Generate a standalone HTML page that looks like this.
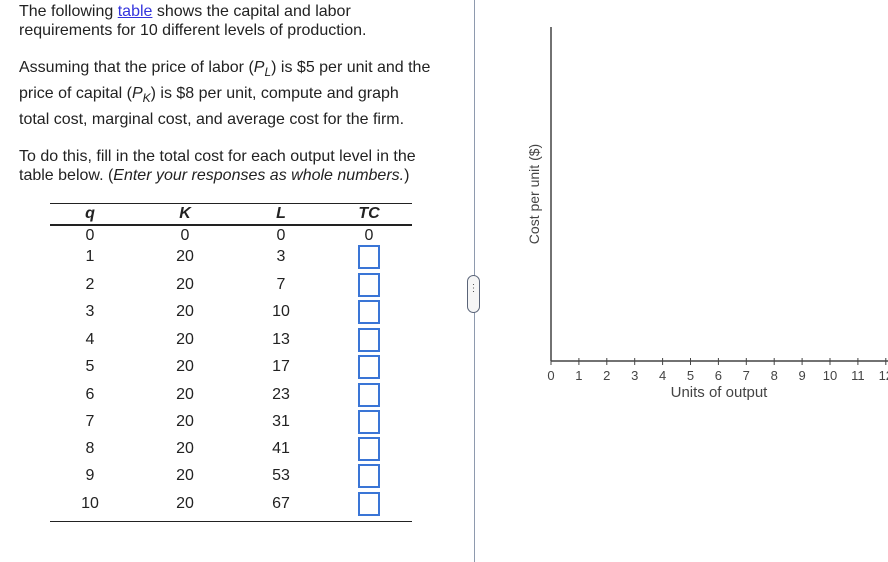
<!DOCTYPE html>
<html><head><meta charset="utf-8"><style>
body{margin:0;width:888px;height:562px;background:#fff;position:relative;overflow:hidden;font-family:"Liberation Sans",Arial,sans-serif;color:#222;font-size:16px}
.t{position:absolute;left:19px;white-space:nowrap;line-height:18px}
a{color:#3333dd;text-decoration:underline}
.c{position:absolute;width:60px;text-align:center;font-size:16px;line-height:18px}
.h{font-weight:bold;font-style:italic}
.in{position:absolute;width:22px;height:24px;border:2px solid #3a75d6;box-sizing:border-box;background:#fff}
.hl{position:absolute;left:50px;width:362px;background:#222}
sub{font-size:12px;vertical-align:-4px;line-height:0}
</style></head><body>
<div class="t" style="top:3px">The following <a>table</a> shows the capital and labor</div>
<div class="t" style="top:22px">requirements for 10 different levels of production.</div>
<div class="t" style="top:59px">Assuming that the price of labor (<i>P</i><sub><i>L</i></sub>) is $5 per unit and the</div>
<div class="t" style="top:85px">price of capital (<i>P</i><sub><i>K</i></sub>) is $8 per unit, compute and graph</div>
<div class="t" style="top:111px">total cost, marginal cost, and average cost for the firm.</div>
<div class="t" style="top:148px">To do this, fill in the total cost for each output level in the</div>
<div class="t" style="top:167px">table below. (<i>Enter your responses as whole numbers.</i>)</div>

<div class="hl" style="top:203px;height:1px"></div>
<div class="hl" style="top:224px;height:2px"></div>
<div class="hl" style="top:521px;height:1px"></div>
<div id="tbl"></div>

<div style="position:absolute;left:474px;top:0;width:1px;height:562px;background:#8e9aae"></div>
<div style="position:absolute;left:467px;top:275px;width:13px;height:38px;border:1px solid #5a6478;border-radius:7px;background:#f6f6f6;box-sizing:border-box;font-size:10px;line-height:10px;text-align:center;color:#555;padding-top:8px">⋮</div>

<svg id="chart" width="888" height="562" style="position:absolute;left:0;top:0"></svg>
<script>
const qVals=[0,1,2,3,4,5,6,7,8,9,10];
const kVals=[0,20,20,20,20,20,20,20,20,20,20];
const lVals=[0,3,7,10,13,17,23,31,41,53,67];
const rowY=[236,257,285,312,340,367,395,422,449,476,504];
const tbl=document.getElementById('tbl');
function cell(txt,cx,y,cls,name){const d=document.createElement('div');d.className='c '+(cls||'');d.style.left=(cx-30)+'px';d.style.top=(y-9)+'px';d.textContent=txt;


tbl.appendChild(d);}
cell('q',90,214,'h','header-q');cell('K',185,214,'h','header-k');cell('L',281,214,'h','header-l');cell('TC',369,214,'h','header-tc');
qVals.forEach((q,i)=>{const y=rowY[i];cell(q,90,y,'','q-'+q);cell(kVals[i],185,y,'','k-'+q);cell(lVals[i],281,y,'','l-'+q);
if(i===0)cell('0',369,y,'','tc-0');else{const b=document.createElement('div');b.className='in';b.style.left='358px';b.style.top=(y-12)+'px';


tbl.appendChild(b);}});

const xTicks=[0,1,2,3,4,5,6,7,8,9,10,11,12];
const ns='http://www.w3.org/2000/svg';const svg=document.getElementById('chart');
const x0=551,y0=361,dx=27.9,yTop=27,xEnd=888;
const sx=v=>x0+v*dx;
function el(t,a,name){const e=document.createElementNS(ns,t);for(const k in a)e.setAttribute(k,a[k]);


svg.appendChild(e);return e;}
el('line',{x1:x0,y1:yTop,x2:x0,y2:y0,stroke:'#444','stroke-width':1.5},'y-axis');
el('line',{x1:x0,y1:y0,x2:xEnd,y2:y0,stroke:'#444','stroke-width':1.5},'x-axis');
xTicks.forEach(v=>{const x=sx(v);el('line',{x1:x,y1:y0-3,x2:x,y2:y0+4,stroke:'#444','stroke-width':1},'x-tick-'+v);
const t=el('text',{x:x,y:y0+19,'text-anchor':'middle','font-size':13,fill:'#444','font-family':'Liberation Sans, sans-serif'},'x-tick-label-'+v);t.textContent=v;});
const xt=el('text',{x:719,y:397,'text-anchor':'middle','font-size':15,fill:'#444','font-family':'Liberation Sans, sans-serif'},'x-axis-title');xt.textContent='Units of output';
const yt=el('text',{x:539,y:194,'text-anchor':'middle','font-size':14,fill:'#444','font-family':'Liberation Sans, sans-serif',transform:'rotate(-90 539 194)'},'y-axis-title');yt.textContent='Cost per unit ($)';
</script>
</body></html>
